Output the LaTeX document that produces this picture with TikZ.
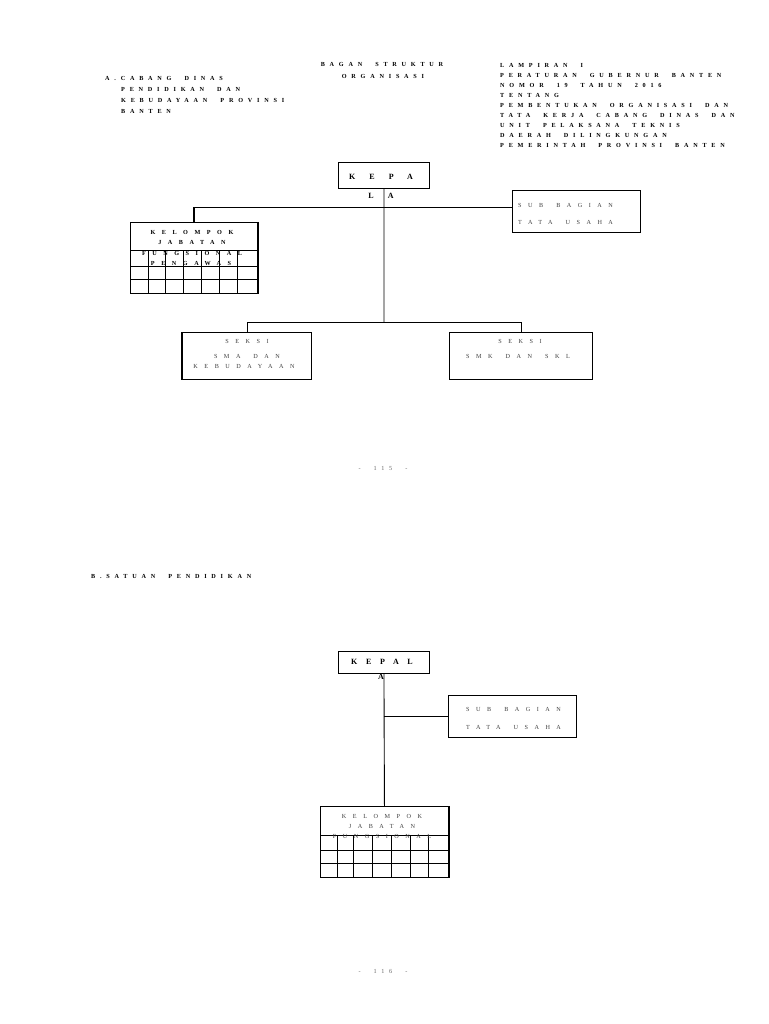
\documentclass[tikz,border=0pt]{standalone}
\usepackage{fontspec}
\setmainfont{Liberation Serif}
\newfontfamily\tracked[LetterSpace=77]{Liberation Serif}
\newfontfamily\boxtracked[LetterSpace=105]{Liberation Serif}
\newcommand\wordgap{\kern 13pt\relax}
\usepackage{tikz}

\begin{document}
\begin{tikzpicture}[x=1pt, y=-1pt,
  box/.style={draw, line width=0.9pt, inner sep=0pt, anchor=north west},
  head/.style={inner sep=0pt, anchor=west, font=\tracked\bfseries\fontsize{6.2}{7}\selectfont},
  headc/.style={head, anchor=center},
  cell/.style={inner sep=0pt, font=\boxtracked\bfseries\fontsize{6.2}{7}\selectfont},
  inbox/.style={inner sep=0pt, anchor=west, text=black!75, font=\boxtracked\fontsize{6.2}{7}\selectfont},
  inboxc/.style={inbox, anchor=center},
  chief/.style={inner sep=0pt, font=\tracked\addfontfeature{LetterSpace=175}\bfseries\fontsize{8}{9}\selectfont},
  chiefb/.style={chief, font=\tracked\addfontfeature{LetterSpace=108}\bfseries\fontsize{8}{9}\selectfont},
  link/.style={line width=0.9pt},
  heavy/.style={line width=1.6pt},
  grid/.style={line width=0.7pt},
  pageno/.style={inner sep=0pt, text=black!60, font=\tracked\fontsize{6.2}{7}\selectfont}
 ]
\useasboundingbox (0,0) rectangle (768,1024);

\node[head] (unitA1) at (105,78) {A.CABANG\wordgap DINAS};
\node[head] (unitA2) at (121,89) {PENDIDIKAN\wordgap DAN};
\node[head] (unitA3) at (121,100) {KEBUDAYAAN\wordgap PROVINSI};
\node[head] (unitA4) at (121,111) {BANTEN};

\node[headc] (title1) at (382,64) {BAGAN\wordgap STRUKTUR};
\node[headc] (title2) at (383,76) {ORGANISASI};

\node[head] (lamp1) at (500,65) {LAMPIRAN\wordgap I};
\node[head] (lamp2) at (500,75) {PERATURAN\wordgap GUBERNUR\wordgap BANTEN};
\node[head] (lamp3) at (500,85) {NOMOR\wordgap 19\wordgap TAHUN\wordgap 2016};
\node[head] (lamp4) at (500,95) {TENTANG};
\node[head] (lamp5) at (500,105) {PEMBENTUKAN\wordgap ORGANISASI\wordgap DAN};
\node[head] (lamp6) at (500,115) {TATA\wordgap KERJA\wordgap CABANG\wordgap DINAS\wordgap DAN};
\node[head] (lamp7) at (500,125) {UNIT\wordgap PELAKSANA\wordgap TEKNIS};
\node[head] (lamp8) at (500,135) {DAERAH\wordgap DILINGKUNGAN};
\node[head] (lamp9) at (500,145) {PEMERINTAH\wordgap PROVINSI\wordgap BANTEN};

\node[box, minimum width=91, minimum height=26] (kepalaA) at (338,162) {};
\node[chief] (kepalaA1) at (381,177) {KEPA};
\node[chief] (kepalaA2) at (381,196) {LA};

\node[box, minimum width=128, minimum height=42] (subA) at (512,190) {};
\node[inbox] (subA1) at (518,205) {SUB\wordgap BAGIAN};
\node[inbox] (subA2) at (518,222) {TATA\wordgap USAHA};

\node[box, minimum width=127, minimum height=71] (kelA) at (130,222) {};
\foreach \y in {250,266,279} \draw[grid] (130,\y) -- (257,\y);
\foreach \x in {148,165,183,201,219,237} \draw[grid] (\x,250) -- (\x,293);
\draw[heavy] (kelA.north east) -- (kelA.south east);
\node[cell] (kelA1) at (192,232) {KELOMPOK};
\node[cell] (kelA2) at (192,242) {JABATAN};
\node[cell] (kelA3) at (192,253) {FUNGSIONAL};
\node[cell] (kelA4) at (191,263) {PENGAWAS};

\node[box, minimum width=129, minimum height=47] (seksiL) at (182,332) {};
\draw[heavy] (seksiL.north west) -- (seksiL.south west);
\node[inboxc] (seksiL1) at (247,341) {SEKSI};
\node[inboxc] (seksiL2) at (247,356) {SMA\wordgap DAN};
\node[inboxc] (seksiL3) at (244,366) {KEBUDAYAAN};

\node[box, minimum width=143, minimum height=47] (seksiR) at (449,332) {};
\node[inboxc] (seksiR1) at (520,341) {SEKSI};
\node[inboxc] (seksiR2) at (518,356) {SMK\wordgap DAN\wordgap SKL};

\coordinate (jA) at (384,322);
\draw[link] (kepalaA.south) -- (jA);
\draw[heavy] (kelA.north) |- ([yshift=4pt]subA.west);
\draw[link] (jA) -| (seksiL.north);
\draw[link] (jA) -| (seksiR.north);

\node[pageno] (pageA) at (383,468) {-\wordgap 115\wordgap -};

\node[head] (unitB) at (91,576) {B.SATUAN\wordgap PENDIDIKAN};

\node[box, minimum width=91, minimum height=22] (kepalaB) at (338,651) {};
\node[chiefb] (kepalaB1) at (382,662) {KEPAL};
\node[chiefb] (kepalaB2) at (381,677) {A};

\node[box, minimum width=128, minimum height=42, line width=1.2pt] (subB) at (448,695) {};
\node[inbox] (subB1) at (466,709) {SUB\wordgap BAGIAN};
\node[inbox] (subB2) at (466,727) {TATA\wordgap USAHA};

\node[box, minimum width=128, minimum height=71] (kelB) at (320,806) {};
\foreach \y in {835,850,863} \draw[grid] (320,\y) -- (448,\y);
\foreach \x in {337,353,372,391,410,428} \draw[grid] (\x,835) -- (\x,877);
\draw[heavy] (kelB.north east) -- (kelB.south east);
\node[inboxc] (kelB1) at (382,816) {KELOMPOK};
\node[inboxc] (kelB2) at (382,826) {JABATAN};
\node[inboxc] (kelB3) at (382,836) {FUNGSIONAL};

\draw[link] (kepalaB.south) -- (kelB.north);
\draw[link] (kepalaB.south |- subB.west) -- (subB.west);

\node[pageno] (pageB) at (383,971) {-\wordgap 116\wordgap -};
\end{tikzpicture}
\end{document}
